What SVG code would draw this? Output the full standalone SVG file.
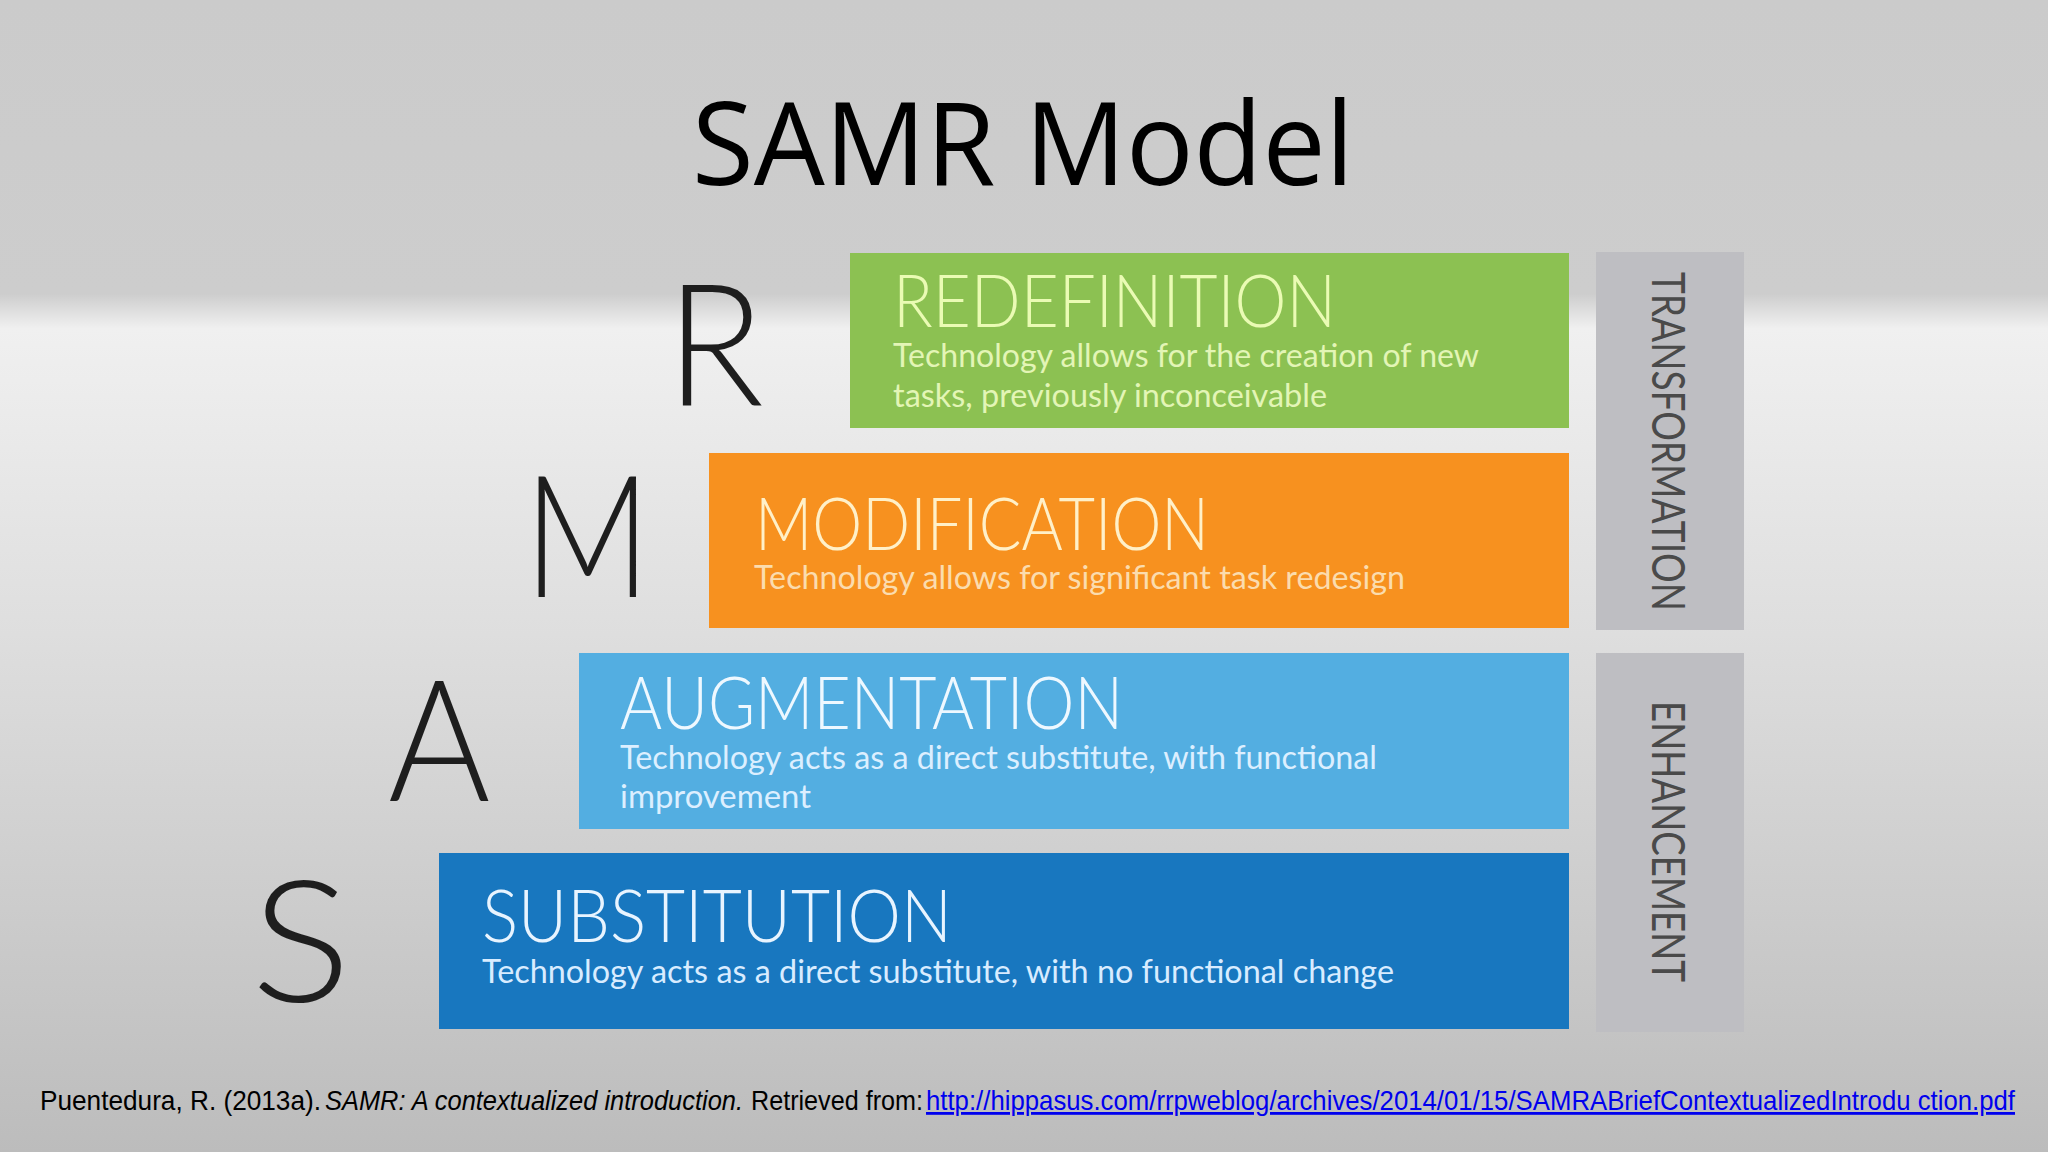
<svg xmlns="http://www.w3.org/2000/svg" width="2048" height="1152" viewBox="0 0 2048 1152">
  <defs>
    <linearGradient id="bg" x1="0" y1="0" x2="0" y2="1152" gradientUnits="userSpaceOnUse">
      <stop offset="0" stop-color="#cbcbcb"/>
      <stop offset="0.255" stop-color="#cdcdcd"/>
      <stop offset="0.285" stop-color="#f0f0f0"/>
      <stop offset="0.55" stop-color="#dedede"/>
      <stop offset="1" stop-color="#bcbcbc"/>
    </linearGradient>
  </defs>
  <style>
    .title { font-family: "Open Sans", "Liberation Sans", sans-serif; font-size: 116px; fill: #000; }
    .letter { font-family: Lato, "Open Sans", sans-serif; font-weight: 300; font-size: 170px; fill: #1e1e1e; }
    .head { font-family: Lato, "Open Sans", sans-serif; font-weight: 300; font-size: 73px; }
    .desc { font-family: Lato, "Open Sans", sans-serif; font-size: 33px; }
    .side { fill: #bebec2; }
    .sidetxt { font-family: Lato, "Open Sans", sans-serif; font-size: 46px; fill: #4a4a4a; }
    .cite { font-family: "Liberation Sans", Arial, sans-serif; font-size: 28px; fill: #000; }
    .link { fill: #0000ee; text-decoration: underline; }
  </style>
  <rect width="2048" height="1152" fill="url(#bg)"/>

  <text class="title" x="692" y="185" textLength="662" lengthAdjust="spacingAndGlyphs">SAMR Model</text>

  <g id="letters">
    <text class="letter" transform="translate(666 405) scale(0.95 1)">R</text>
    <text class="letter" transform="translate(524 597) scale(0.82 1)">M</text>
    <text class="letter" transform="translate(388 801) scale(0.92 1)">A</text>
    <text class="letter" transform="translate(251 1002) scale(1.1 1)">S</text>
  </g>

  <g id="redefinition">
    <rect x="850" y="253" width="719" height="175" fill="#8cc152"/>
    <text class="head" x="893" y="327" fill="#eafbb4" textLength="443" lengthAdjust="spacingAndGlyphs">REDEFINITION</text>
    <text class="desc" x="893" y="367" fill="#e3f5b6" textLength="586" lengthAdjust="spacingAndGlyphs">Technology allows for the creation of new</text>
    <text class="desc" x="893" y="407" fill="#e3f5b6" textLength="434" lengthAdjust="spacingAndGlyphs">tasks, previously inconceivable</text>
  </g>

  <g id="modification">
    <rect x="709" y="453" width="860" height="175" fill="#f7911f"/>
    <text class="head" x="755" y="550" fill="#fff0c8" textLength="454" lengthAdjust="spacingAndGlyphs">MODIFICATION</text>
    <text class="desc" x="754" y="589" fill="#fbdcae" textLength="651" lengthAdjust="spacingAndGlyphs">Technology allows for significant task redesign</text>
  </g>

  <g id="augmentation">
    <rect x="579" y="653" width="990" height="176" fill="#53aee1"/>
    <text class="head" x="620" y="729" fill="#eef8ff" textLength="503" lengthAdjust="spacingAndGlyphs">AUGMENTATION</text>
    <text class="desc" x="620" y="769" fill="#dcefff" textLength="757" lengthAdjust="spacingAndGlyphs">Technology acts as a direct substitute, with functional</text>
    <text class="desc" x="620" y="808" fill="#dcefff" textLength="191" lengthAdjust="spacingAndGlyphs">improvement</text>
  </g>

  <g id="substitution">
    <rect x="439" y="853" width="1130" height="176" fill="#1877bf"/>
    <text class="head" x="482" y="942" fill="#e8f4ff" textLength="470" lengthAdjust="spacingAndGlyphs">SUBSTITUTION</text>
    <text class="desc" x="482" y="983" fill="#d8ecff" textLength="912" lengthAdjust="spacingAndGlyphs">Technology acts as a direct substitute, with no functional change</text>
  </g>

  <g id="transformation">
    <rect class="side" x="1596" y="252" width="148" height="378"/>
    <text class="sidetxt" transform="translate(1652 441.5) rotate(90)" text-anchor="middle" textLength="339" lengthAdjust="spacingAndGlyphs">TRANSFORMATION</text>
  </g>

  <g id="enhancement">
    <rect class="side" x="1596" y="653" width="148" height="379"/>
    <text class="sidetxt" transform="translate(1652 841.5) rotate(90)" text-anchor="middle" textLength="281" lengthAdjust="spacingAndGlyphs">ENHANCEMENT</text>
  </g>

  <g id="connectors"></g>

  <g id="citation">
    <text class="cite" x="40" y="1110" textLength="281" lengthAdjust="spacingAndGlyphs">Puentedura, R. (2013a).</text>
    <text class="cite" x="325" y="1110" font-style="italic" textLength="418" lengthAdjust="spacingAndGlyphs">SAMR: A contextualized introduction.</text>
    <text class="cite" x="751" y="1110" textLength="172" lengthAdjust="spacingAndGlyphs">Retrieved from:</text>
    <text class="cite link" x="926" y="1110" textLength="1089" lengthAdjust="spacingAndGlyphs">http://hippasus.com/rrpweblog/archives/2014/01/15/SAMRABriefContextualizedIntrodu ction.pdf</text>
  </g>
</svg>
